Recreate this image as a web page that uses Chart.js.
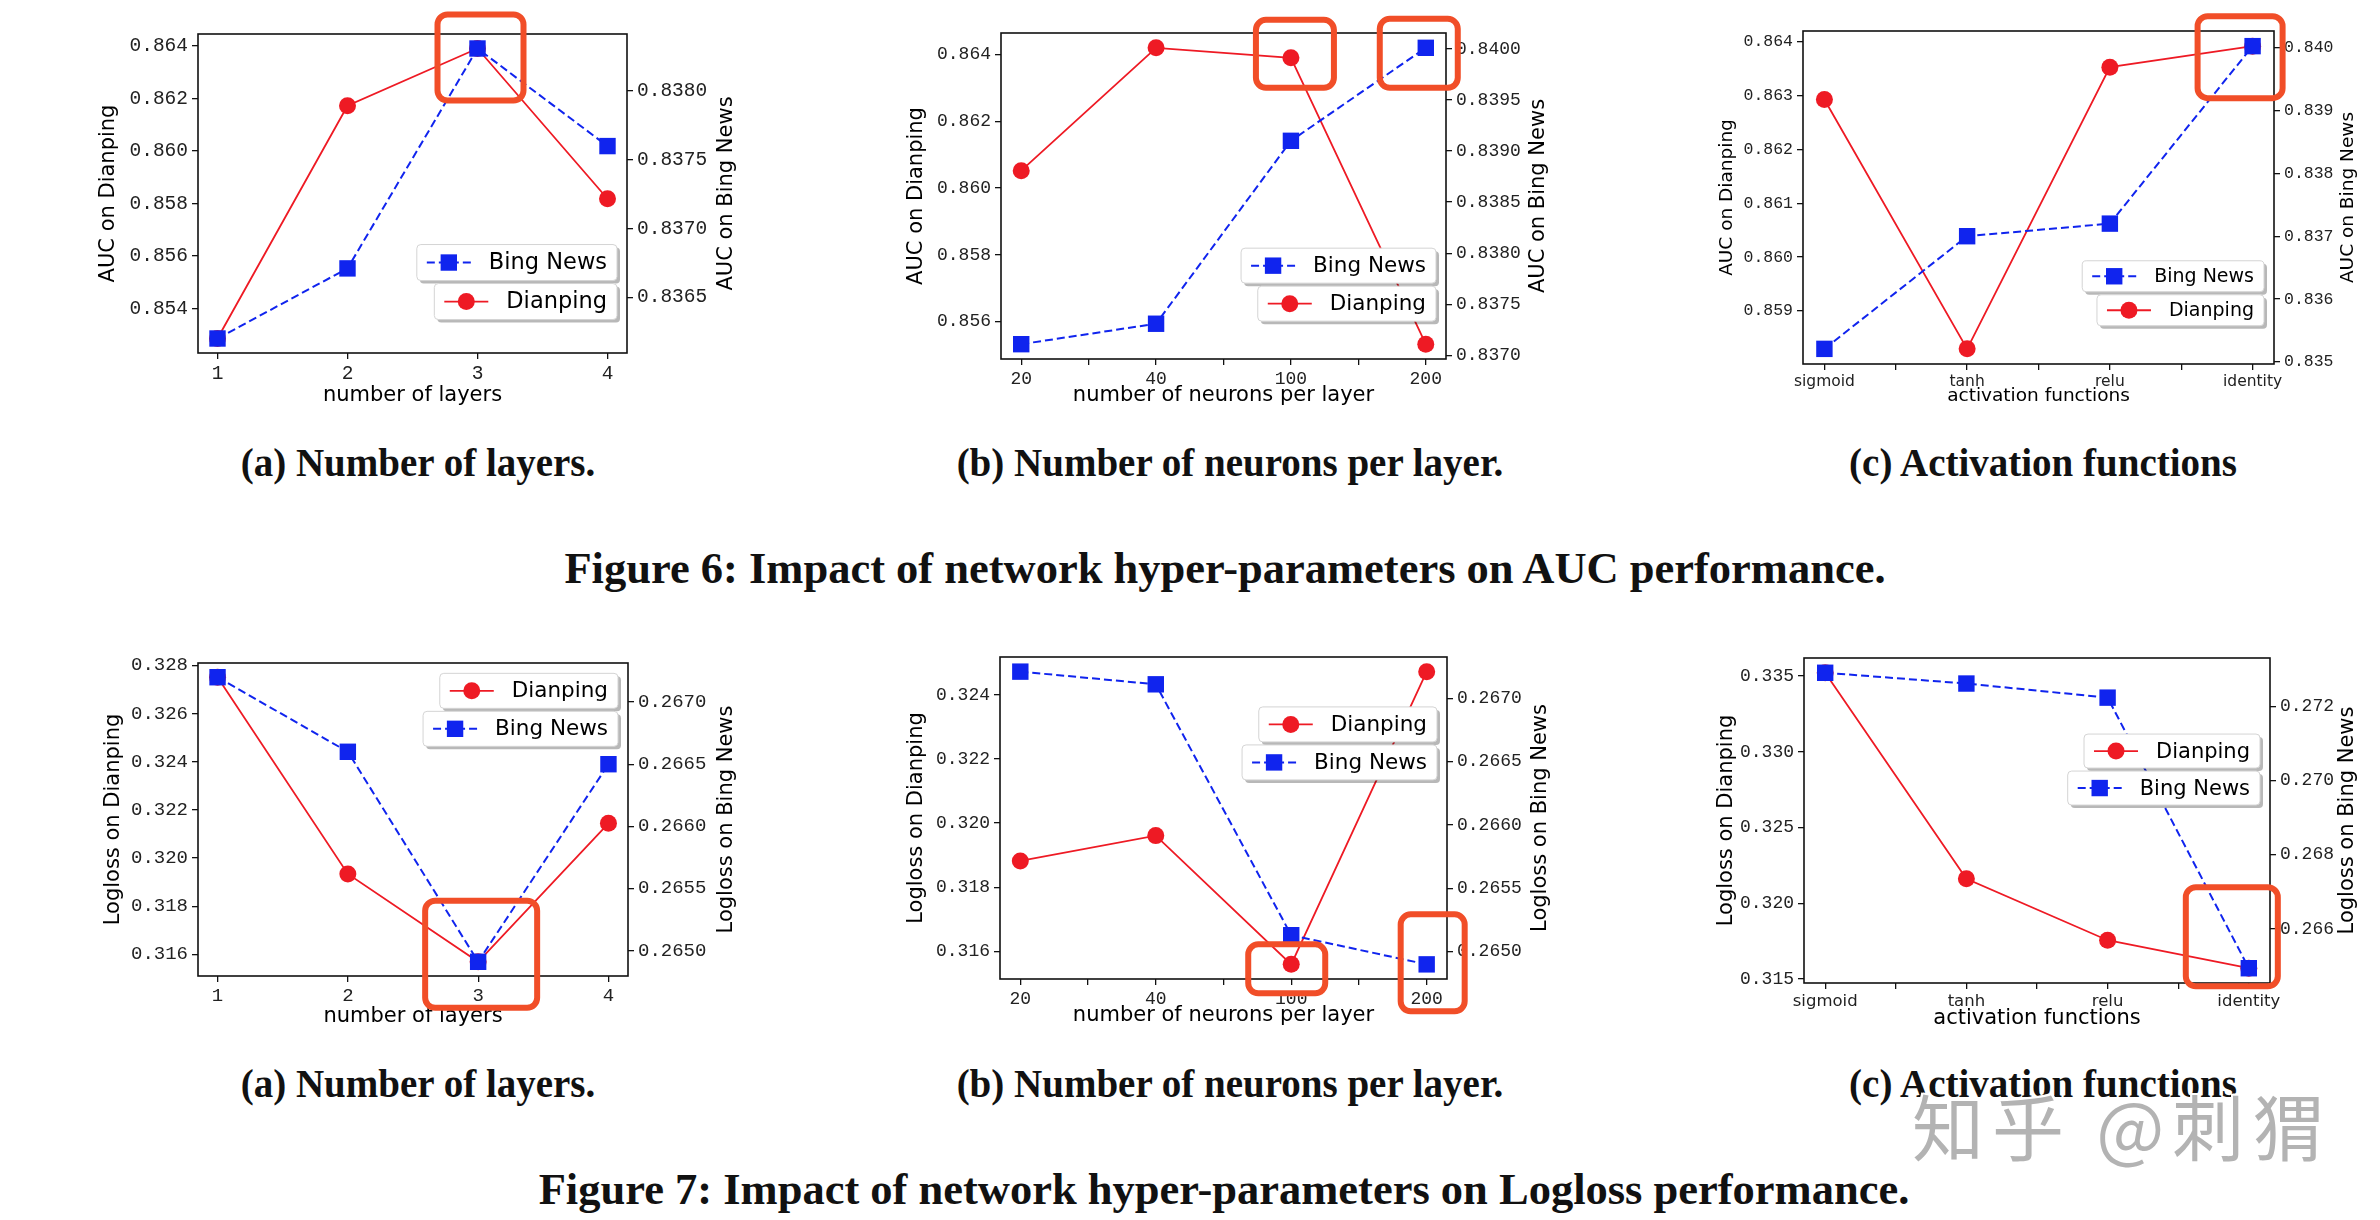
<!DOCTYPE html>
<html>
<head>
<meta charset="utf-8">
<script src="https://cdn.jsdelivr.net/npm/chart.js@4.4.1/dist/chart.umd.min.js"></script>
<style>
  body { margin: 0; background: #fff; width: 2380px; height: 1220px; position: relative; overflow: hidden; }
  canvas { position: absolute; }
  .cap { position: absolute; transform: translate(-50%, -50%); white-space: nowrap; color: #111;
         font-family: 'Liberation Serif', serif; font-weight: bold; }
  .sub { font-size: 39px; }
  .fig { font-size: 44.5px; }
  .mark { position: absolute; left: 1912px; top: 1088px; line-height: 1; font-family: 'Noto Sans CJK SC', sans-serif;
          font-size: 72px; color: #b3b3b3; white-space: nowrap; z-index: 5; letter-spacing: 8px;
          text-shadow: 2px 0 #fff, -2px 0 #fff, 0 2px #fff, 0 -2px #fff, 2px 2px #fff, -2px -2px #fff, 2px -2px #fff, -2px 2px #fff; }
</style>
</head>
<body>
<div class="cap sub" style="left:418px;top:462px">(a) Number of layers.</div>
<div class="cap sub" style="left:1230px;top:462px">(b) Number of neurons per layer.</div>
<div class="cap sub" style="left:2043px;top:462px">(c) Activation functions</div>
<div class="cap fig" style="left:1225px;top:568px">Figure 6: Impact of network hyper-parameters on AUC performance.</div>
<div class="cap sub" style="left:418px;top:1083px">(a) Number of layers.</div>
<div class="cap sub" style="left:1230px;top:1083px">(b) Number of neurons per layer.</div>
<div class="cap sub" style="left:2043px;top:1083px">(c) Activation functions</div>
<div class="cap fig" style="left:1224px;top:1189px">Figure 7: Impact of network hyper-parameters on Logloss performance.</div>
<div class="mark">知乎 @刺猬</div>
<script>
// x categories
const layerLabels = ['1', '2', '3', '4'];
const neuronLabels = ['20', '40', '100', '200'];
const activationLabels = ['sigmoid', 'tanh', 'relu', 'identity'];

// Figure 6 — AUC
const aucLayersDianping = [0.85286, 0.86172, 0.86390, 0.85818];
const aucLayersBing = [0.83620, 0.83671, 0.83831, 0.83760];
const aucNeuronsDianping = [0.86052, 0.86420, 0.86390, 0.85532];
const aucNeuronsBing = [0.83711, 0.83731, 0.83910, 0.84001];
const aucActDianping = [0.86292, 0.85830, 0.86352, 0.86391];
const aucActBing = [0.83521, 0.83700, 0.83720, 0.84002];

// Figure 7 — Logloss
const llLayersDianping = [0.32751, 0.31934, 0.31569, 0.32144];
const llLayersBing = [0.26720, 0.26660, 0.26491, 0.26650];
const llNeuronsDianping = [0.31882, 0.31961, 0.31559, 0.32473];
const llNeuronsBing = [0.26721, 0.26711, 0.26513, 0.26490];
const llActDianping = [0.33522, 0.32162, 0.31756, 0.31571];
const llActBing = [0.27290, 0.27261, 0.27223, 0.26494];

// tick values
const aucLayersLeftTicks = [0.854, 0.856, 0.858, 0.860, 0.862, 0.864];
const aucLayersRightTicks = [0.8365, 0.8370, 0.8375, 0.8380];
const aucNeuronsLeftTicks = [0.856, 0.858, 0.860, 0.862, 0.864];
const aucNeuronsRightTicks = [0.8370, 0.8375, 0.8380, 0.8385, 0.8390, 0.8395, 0.8400];
const aucActLeftTicks = [0.859, 0.860, 0.861, 0.862, 0.863, 0.864];
const aucActRightTicks = [0.835, 0.836, 0.837, 0.838, 0.839, 0.840];
const llLayersLeftTicks = [0.316, 0.318, 0.320, 0.322, 0.324, 0.326, 0.328];
const llLayersRightTicks = [0.2650, 0.2655, 0.2660, 0.2665, 0.2670];
const llNeuronsLeftTicks = [0.316, 0.318, 0.320, 0.322, 0.324];
const llNeuronsRightTicks = [0.2650, 0.2655, 0.2660, 0.2665, 0.2670];
const llActLeftTicks = [0.315, 0.320, 0.325, 0.330, 0.335];
const llActRightTicks = [0.266, 0.268, 0.270, 0.272];

const BLUE = '#1024ee', RED = '#ee1a24', HILITE = '#f14e28', INK = '#222';
const MONO = "'Liberation Mono', monospace", SANS = "'DejaVu Sans', sans-serif";
Chart.defaults.font.family = SANS;

// matplotlib-like autoscale: 5% margin each side
const range = vals => {
  const lo = Math.min(...vals), hi = Math.max(...vals), m = (hi - lo) * 0.05;
  return { min: lo - m, max: hi + m };
};

const panels = [
  { box: [198, 34, 627, 353], lt: 109, rt: 726, bt: 395, labels: layerLabels, half: false,
    dian: aucLayersDianping, bing: aucLayersBing, yl: aucLayersLeftTicks, yr: aucLayersRightTicks, dl: 3, dr: 4,
    yTitle: 'AUC on Dianping', rTitle: 'AUC on Bing News', xTitle: 'number of layers',
    fs: { tick: 19.5, xtick: 19.5, title: 21, legend: 22.5 }, xMono: true,
    legend: { order: ['bing', 'dian'], top: 0.66 },
    marks: [{ s: 'bing', i: 2, b: [-40, -34, 46, 52] }] },
  { box: [1001, 33, 1446, 359], lt: 917, rt: 1538, bt: 395, labels: neuronLabels, half: true,
    dian: aucNeuronsDianping, bing: aucNeuronsBing, yl: aucNeuronsLeftTicks, yr: aucNeuronsRightTicks, dl: 3, dr: 4,
    yTitle: 'AUC on Dianping', rTitle: 'AUC on Bing News', xTitle: 'number of neurons per layer',
    fs: { tick: 18, xtick: 18, title: 21, legend: 21.5 }, xMono: true,
    legend: { order: ['bing', 'dian'], top: 0.66 },
    marks: [{ s: 'dian', i: 2, b: [-35, -38, 43, 30] }, { s: 'bing', i: 3, b: [-46, -29, 32, 40] }] },
  { box: [1803, 31, 2274, 364], lt: 1727, rt: 2348, bt: 396, labels: activationLabels, half: true,
    dian: aucActDianping, bing: aucActBing, yl: aucActLeftTicks, yr: aucActRightTicks, dl: 3, dr: 3,
    yTitle: 'AUC on Dianping', rTitle: 'AUC on Bing News', xTitle: 'activation functions',
    fs: { tick: 16.5, xtick: 15.5, title: 18.5, legend: 19 }, xMono: false,
    legend: { order: ['bing', 'dian'], top: 0.69 },
    marks: [{ s: 'bing', i: 3, b: [-55, -30, 30, 52] }] },
  { box: [198, 663, 628, 976], lt: 114, rt: 726, bt: 1016, labels: layerLabels, half: false,
    dian: llLayersDianping, bing: llLayersBing, yl: llLayersLeftTicks, yr: llLayersRightTicks, dl: 3, dr: 4,
    yTitle: 'Logloss on Dianping', rTitle: 'Logloss on Bing News', xTitle: 'number of layers',
    fs: { tick: 19, xtick: 19, title: 21, legend: 21.5 }, xMono: true,
    legend: { order: ['dian', 'bing'], top: 0.033 },
    marks: [{ s: 'bing', i: 2, b: [-53, -61, 59, 46] }] },
  { box: [1000, 657, 1447, 979], lt: 917, rt: 1540, bt: 1015, labels: neuronLabels, half: true,
    dian: llNeuronsDianping, bing: llNeuronsBing, yl: llNeuronsLeftTicks, yr: llNeuronsRightTicks, dl: 3, dr: 4,
    yTitle: 'Logloss on Dianping', rTitle: 'Logloss on Bing News', xTitle: 'number of neurons per layer',
    fs: { tick: 18, xtick: 18, title: 21, legend: 21.5 }, xMono: true,
    legend: { order: ['dian', 'bing'], top: 0.155 },
    marks: [{ s: 'dian', i: 2, b: [-43, -20, 34, 29] }, { s: 'bing', i: 3, b: [-26, -50, 38, 47] }] },
  { box: [1804, 658, 2270, 983], lt: 1727, rt: 2347, bt: 1018, labels: activationLabels, half: true,
    dian: llActDianping, bing: llActBing, yl: llActLeftTicks, yr: llActRightTicks, dl: 3, dr: 3,
    yTitle: 'Logloss on Dianping', rTitle: 'Logloss on Bing News', xTitle: 'activation functions',
    fs: { tick: 18, xtick: 16.5, title: 21, legend: 21 }, xMono: false,
    legend: { order: ['dian', 'bing'], top: 0.234 },
    marks: [{ s: 'bing', i: 3, b: [-63, -81, 29, 18] }] },
];

function rr(ctx, x, y, w, h, r) {
  ctx.beginPath();
  ctx.roundRect(x, y, w, h, r);
}

function drawMarker(ctx, kind, x, y) {
  ctx.fillStyle = kind === 'bing' ? BLUE : RED;
  ctx.beginPath();
  if (kind === 'bing') ctx.rect(x - 8.2, y - 8.2, 16.4, 16.4);
  else ctx.arc(x, y, 8.5, 0, Math.PI * 2);
  ctx.fill();
}

// frame, right-hand title, in-plot legends and the red highlight boxes
const extras = {
  id: 'extras',
  beforeDatasetsDraw(chart) {
    const a = chart.chartArea, ctx = chart.ctx;
    ctx.save();
    ctx.strokeStyle = '#111'; ctx.lineWidth = 1.6;
    ctx.strokeRect(a.left, a.top, a.right - a.left, a.bottom - a.top);
    ctx.restore();
  },
  afterDraw(chart) {
    const p = chart.options.plugins.extras.panel;
    const ctx = chart.ctx, a = chart.chartArea, yR = chart.scales.yR;
    ctx.save();
    // right axis title, reading bottom-to-top like matplotlib
    ctx.translate(yR.right - p.fs.title * 0.6, (a.top + a.bottom) / 2);
    ctx.rotate(-Math.PI / 2);
    ctx.font = `${p.fs.title}px ${SANS}`;
    ctx.fillStyle = '#000'; ctx.textAlign = 'center'; ctx.textBaseline = 'middle';
    ctx.fillText(p.rTitle, 0, 0);
    ctx.restore();

    // legends: one small framed box per series, stacked, right-aligned
    ctx.save();
    ctx.font = `${p.fs.legend}px ${SANS}`;
    const h = Math.round(p.fs.legend * 1.62);
    let y = a.top + p.legend.top * (a.bottom - a.top);
    for (const key of p.legend.order) {
      const text = key === 'bing' ? 'Bing News' : 'Dianping';
      const tw = ctx.measureText(text).width;
      const w = 10 + 44 + 18 + tw + 10;
      const x = a.right - 10 - w;
      ctx.fillStyle = 'rgba(0,0,0,0.28)'; rr(ctx, x + 3, y + 3, w, h, 4); ctx.fill();
      ctx.fillStyle = '#fff'; rr(ctx, x, y, w, h, 4); ctx.fill();
      ctx.strokeStyle = '#d4d4d4'; ctx.lineWidth = 1; ctx.stroke();
      const cy = y + h / 2;
      ctx.strokeStyle = key === 'bing' ? BLUE : RED;
      ctx.lineWidth = key === 'bing' ? 2 : 1.8;
      ctx.setLineDash(key === 'bing' ? [8, 4] : []);
      ctx.beginPath(); ctx.moveTo(x + 10, cy); ctx.lineTo(x + 54, cy); ctx.stroke();
      ctx.setLineDash([]);
      drawMarker(ctx, key, x + 32, cy);
      ctx.fillStyle = '#000'; ctx.textAlign = 'left'; ctx.textBaseline = 'middle';
      ctx.fillText(text, x + 72, cy + 1);
      y += h + 3;
    }
    ctx.restore();

    // highlight boxes around the best points
    ctx.save();
    ctx.strokeStyle = HILITE; ctx.lineWidth = 6;
    for (const m of p.marks) {
      const vals = m.s === 'bing' ? p.bing : p.dian;
      const ys = m.s === 'bing' ? yR : chart.scales.yL;
      const px = chart.scales.x.getPixelForValue(m.i), py = ys.getPixelForValue(vals[m.i]);
      rr(ctx, px + m.b[0], py + m.b[1], m.b[2] - m.b[0], m.b[3] - m.b[1], 10);
      ctx.stroke();
    }
    ctx.restore();
  },
};

function makePanel(p) {
  const cL = Math.round(p.lt - p.fs.title * 0.6);
  const cR = Math.round(p.rt + p.fs.title * 0.6);
  const cB = Math.round(p.bt + p.fs.title * 0.6);
  const cT = p.box[1] - 26;
  const leftW = p.box[0] - cL, rightW = cR - p.box[2], botH = cB - p.box[3];

  const canvas = document.createElement('canvas');
  canvas.width = cR - cL; canvas.height = cB - cT;
  canvas.style.left = cL + 'px'; canvas.style.top = cT + 'px';
  document.body.appendChild(canvas);

  const xTicks = [];
  for (let v = 0; v <= 3; v += p.half ? 0.5 : 1) xTicks.push({ value: v });
  const tickGrid = { drawOnChartArea: false, drawTicks: true, tickLength: 6, color: '#111', lineWidth: 1.3 };
  const yAxis = (pos, ticks, dec, vals) => ({
    type: 'linear', position: pos, ...range(vals),
    afterBuildTicks: s => { s.ticks = ticks.map(v => ({ value: v })); },
    afterFit: s => { s.width = pos === 'left' ? leftW : rightW; },
    grid: tickGrid, border: { display: false },
    ticks: { font: { family: MONO, size: p.fs.tick }, color: INK, padding: 4, callback: v => v.toFixed(dec) },
    title: pos === 'left'
      ? { display: true, text: p.yTitle, color: '#000', font: { size: p.fs.title }, padding: 0 }
      : { display: false },
  });

  new Chart(canvas, {
    type: 'line',
    data: {
      datasets: [
        { label: 'Bing News', yAxisID: 'yR', order: 0, data: p.bing.map((v, i) => ({ x: i, y: v })),
          borderColor: BLUE, backgroundColor: BLUE, borderWidth: 2, borderDash: [8, 4],
          pointStyle: 'rect', pointRadius: 11.6, pointBorderWidth: 0, tension: 0, clip: false },
        { label: 'Dianping', yAxisID: 'yL', order: 1, data: p.dian.map((v, i) => ({ x: i, y: v })),
          borderColor: RED, backgroundColor: RED, borderWidth: 1.8,
          pointStyle: 'circle', pointRadius: 8.5, pointBorderWidth: 0, tension: 0, clip: false },
      ],
    },
    options: {
      responsive: false, animation: false, devicePixelRatio: 1, events: [],
      layout: { padding: { top: p.box[1] - cT, left: 0, right: 0, bottom: 0 } },
      plugins: { legend: { display: false }, tooltip: { enabled: false }, extras: { panel: p } },
      scales: {
        x: {
          type: 'linear', min: -0.15, max: 3.15,
          afterBuildTicks: s => { s.ticks = xTicks.slice(); },
          afterFit: s => { s.height = botH; },
          grid: tickGrid, border: { display: false },
          ticks: { autoSkip: false, maxRotation: 0, padding: 3, color: INK,
                   font: { family: p.xMono ? MONO : SANS, size: p.fs.xtick },
                   callback: v => (Number.isInteger(v) ? p.labels[v] : '') },
          title: { display: true, text: p.xTitle, color: '#000', font: { size: p.fs.title }, padding: 0 },
        },
        yL: yAxis('left', p.yl, p.dl, p.dian),
        yR: yAxis('right', p.yr, p.dr, p.bing),
      },
    },
    plugins: [extras],
  });
}

panels.forEach(makePanel);
</script>
</body>
</html>
